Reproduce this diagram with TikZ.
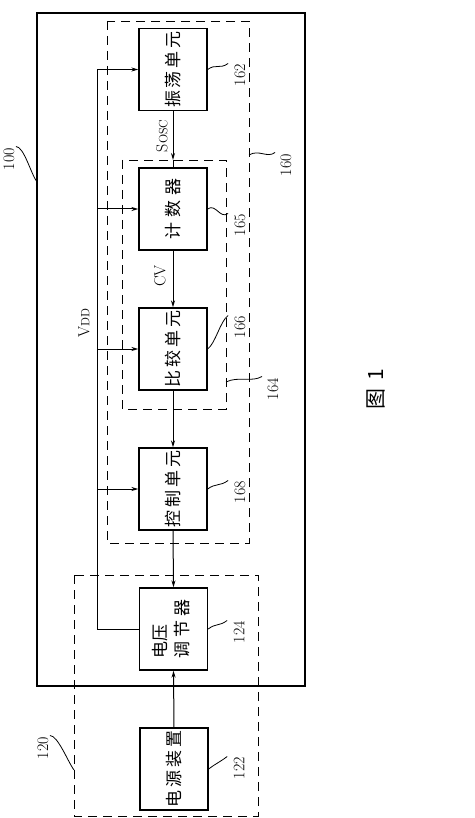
\documentclass[tikz,border=0pt]{standalone}
\usepackage{fontspec}
\usepackage{graphicx}
\newfontfamily\cjk{Noto Sans CJK SC}
\usetikzlibrary{calc,arrows.meta}

\begin{document}
\begin{tikzpicture}[x=1pt,y=-1pt,line width=1pt,
    blk/.style={draw,line width=1.3pt,minimum width=68pt,minimum height=82pt,inner sep=1pt,
      font=\cjk\fontsize{17}{22}\selectfont},
    grp/.style={line width=0.9pt,dash pattern=on 9pt off 6pt},
    num/.style={rotate=90,inner sep=1pt,font=\fontsize{16}{18}\selectfont},
    sig/.style={rotate=90,inner sep=1pt,font=\fontsize{16}{18}\selectfont},
    lead/.style={line width=0.8pt},
    arr/.style={-{Stealth[length=7pt,width=4pt]}}]
    \useasboundingbox (0,0) rectangle (474,818);

    \draw[line width=1.3pt] (37,13) rectangle (305,686);
    \draw[grp] (107,21) rectangle (249,543);
    \draw[grp] (122,160) coordinate (g164) rectangle (226,409);
    \draw[grp] (74,575) rectangle (258,816);

    \node[blk] (osc) at (173,69.5) {\rotatebox{90}{振\hspace{3pt}荡\hspace{3pt}单\hspace{3pt}元}};
    \node[blk] (cnt) at (173,209) {\rotatebox{90}{计\hspace{5pt}数\hspace{5pt}器}};
    \node[blk] (cmp) at (173,349) {\rotatebox{90}{比\hspace{3pt}较\hspace{3pt}单\hspace{3pt}元}};
    \node[blk] (ctl) at (173,489) {\rotatebox{90}{控\hspace{3pt}制\hspace{3pt}单\hspace{3pt}元}};
    \node[blk] (reg) at (173.5,629) {\rotatebox{90}{\begin{tabular}{@{}l@{}}电压\\调\hspace{4pt}节\hspace{4pt}器\end{tabular}}};
    \node[blk] (src) at (174,769) {\rotatebox{90}{电\hspace{3pt}源\hspace{3pt}装\hspace{3pt}置}};

    \draw[arr] (osc.south) -- (osc.south |- g164);
    \draw (osc.south |- g164) -- (cnt.north);
    \draw[arr] (cnt.south) -- (cmp.north);
    \draw[arr] (cmp.south) -- (ctl.north);
    \draw[arr] (ctl.south) -- (reg.north);
    \draw[arr] (src.north) -- (reg.south);

    \coordinate (vtop) at (97,69.5);
    \coordinate (vbot) at (97,629);
    \draw (reg.west) -- (vbot) -- (vtop);
    \draw[arr] (vtop) -- (osc.west);
    \draw[arr] (vtop |- cnt.west) -- (cnt.west);
    \draw[arr] (vtop |- cmp.west) -- (cmp.west);
    \draw[arr] (vtop |- ctl.west) -- (ctl.west);

    \node[sig] (sosc) at (162,136) {S{\fontsize{12}{13}\selectfont OSC}};
    \node[sig] (cv) at (160,276) {CV};
    \node[sig] (vdd) at (84,323) {V{\fontsize{12}{13}\selectfont DD}};

    \node[num] (l100) at (9,159) {100};
    \node[num] (l160) at (286,165) {160};
    \node[num] (l162) at (240,75) {162};
    \node[num] (l165) at (240,225) {165};
    \node[num] (l166) at (240,327) {166};
    \node[num] (l164) at (273,389) {164};
    \node[num] (l168) at (240,492) {168};
    \node[num] (l124) at (239,632) {124};
    \node[num] (l122) at (239,768) {122};
    \node[num] (l120) at (43,748) {120};
    \node[rotate=90,font=\cjk\fontsize{21}{24}\selectfont] (fig) at (376,389) {图\hspace{8pt}1};

    \draw[lead] (l100.south east) .. controls +(8,0) and +(-6,-8) .. (37,182);
    \draw[lead] (249,155) .. controls +(10,-6) and +(-8,6) .. ($(l160.north east)+(-4,0)$);
    \draw[lead] (osc.east) .. controls +(8,-6) and +(-8,6) .. ($(l162.north east)+(-5,1)$);
    \draw[lead] (cnt.east) .. controls +(8,-6) and +(-8,6) .. ($(l165.north east)+(-5,1)$);
    \draw[lead] (cmp.east) .. controls +(8,-6) and +(-8,6) .. ($(l166.north east)+(-5,1)$);
    \draw[lead] (226,382) .. controls +(12,-6) and +(-10,6) .. ($(l164.north east)+(-4,0)$);
    \draw[lead] (ctl.east) .. controls +(8,-6) and +(-8,6) .. ($(l168.north east)+(-5,1)$);
    \draw[lead] (reg.east) .. controls +(8,-6) and +(-8,6) .. ($(l124.north east)+(-5,1)$);
    \draw[lead] (src.east) .. controls +(8,-6) and +(-8,6) .. ($(l122.north east)+(-5,1)$);
    \draw[lead] (l120.south east) .. controls +(8,0) and +(-6,-8) .. (74,770);
\end{tikzpicture}
\end{document}
